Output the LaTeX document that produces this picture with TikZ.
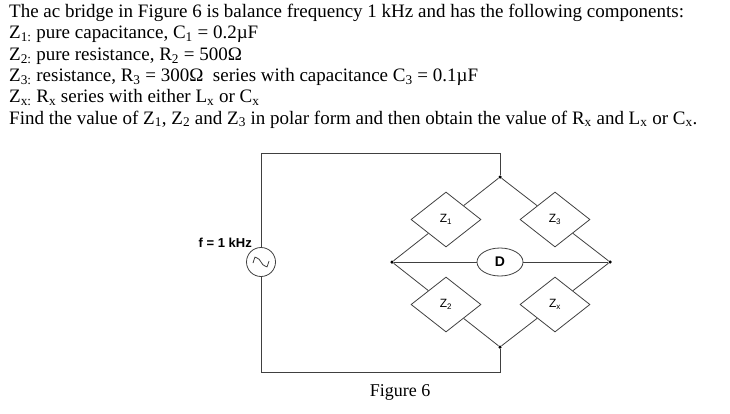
\documentclass[tikz,border=0pt]{standalone}
\usepackage{fontspec}
\setmainfont{Liberation Serif}
\newfontfamily\arialfont{Liberation Sans}
\usetikzlibrary{shapes.geometric}
\tikzset{%
  wire/.style={line width=0.8pt,black!75},
  imp/.style={diamond,draw,line width=0.8pt,black!75,text=black,shape aspect=1.27,
    inner sep=0pt,minimum width=70pt,minimum height=55pt,
    font=\arialfont\fontsize{12}{12}\selectfont},
  junction/.style={circle,fill=black,inner sep=0pt,minimum size=3.5pt}%
}
\begin{document}
\begin{tikzpicture}[x=1pt,y=-1pt]
  \useasboundingbox (0,0) rectangle (730,413);
  % problem text
  \node[anchor=north west,align=left,inner sep=0pt,font=\fontsize{19}{21.3}\selectfont] (txt) at (9,4) {%
    The ac bridge in Figure 6 is balance frequency 1 kHz and has the following components:\\
    Z\textsubscript{1:} pure capacitance, C\textsubscript{1} = 0.2µF\\
    Z\textsubscript{2:} pure resistance, R\textsubscript{2} = 500Ω\\
    Z\textsubscript{3:} resistance, R\textsubscript{3} = 300Ω\ \ series with capacitance C\textsubscript{3} = 0.1µF\\
    Z\textsubscript{x:} R\textsubscript{x} series with either L\textsubscript{x} or C\textsubscript{x}\\
    Find the value of Z\textsubscript{1}, Z\textsubscript{2} and Z\textsubscript{3} in polar form and then obtain the value of R\textsubscript{x} and L\textsubscript{x} or C\textsubscript{x}.};

  % bridge junctions
  \node[junction] (T) at (500,177) {};
  \node[junction] (L) at (392,262) {};
  \node[junction] (R) at (610,262) {};
  \node[junction] (B) at (500,347) {};
  % arms
  \node[imp] (Z1) at (446,219.5) {Z\textsubscript{1}};
  \node[imp] (Z3) at (555,219.5) {Z\textsubscript{3}};
  \node[imp] (Z2) at (446,304.5) {Z\textsubscript{2}};
  \node[imp] (Zx) at (555,304.5) {Z\textsubscript{x}};
  \node[ellipse,draw,wire,minimum width=46pt,minimum height=28pt,inner sep=0pt,
    text=black,font=\arialfont\bfseries\fontsize{14}{14}\selectfont] (D) at (500,262) {D};
  % source
  \node[circle,draw,wire,minimum size=29pt,inner sep=0pt] (S) at (261,262) {};
  \draw[wire] (S.center) ++(-8,1) .. controls +(3,-9) and +(-3,0) .. ++(4,-5)
    .. controls +(3,0) and +(-3,0) .. ++(8,8) .. controls +(3,0) and +(-3,9) .. ++(4,-5);
  \node[anchor=south east,font=\arialfont\bfseries\fontsize{13}{13}\selectfont,inner sep=1pt] (f) at (253,249) {f = 1 kHz};
  \coordinate (tl) at (261,153);
  \coordinate (tr) at (500,153);
  \coordinate (bl) at (261,372);
  \coordinate (br) at (500,372);

  \draw[wire] (S) -- (tl) -- (tr) -- (T);
  \draw[wire] (S) -- (bl) -- (br) -- (B);
  \draw[wire] (T) -- (Z1) -- (L);
  \draw[wire] (T) -- (Z3) -- (R);
  \draw[wire] (L) -- (Z2) -- (B);
  \draw[wire] (R) -- (Zx) -- (B);
  \draw[wire] (L) -- (D) -- (R);

  \node[font=\fontsize{18}{18}\selectfont] (cap) at (400,392) {Figure 6};
\end{tikzpicture}
\end{document}
